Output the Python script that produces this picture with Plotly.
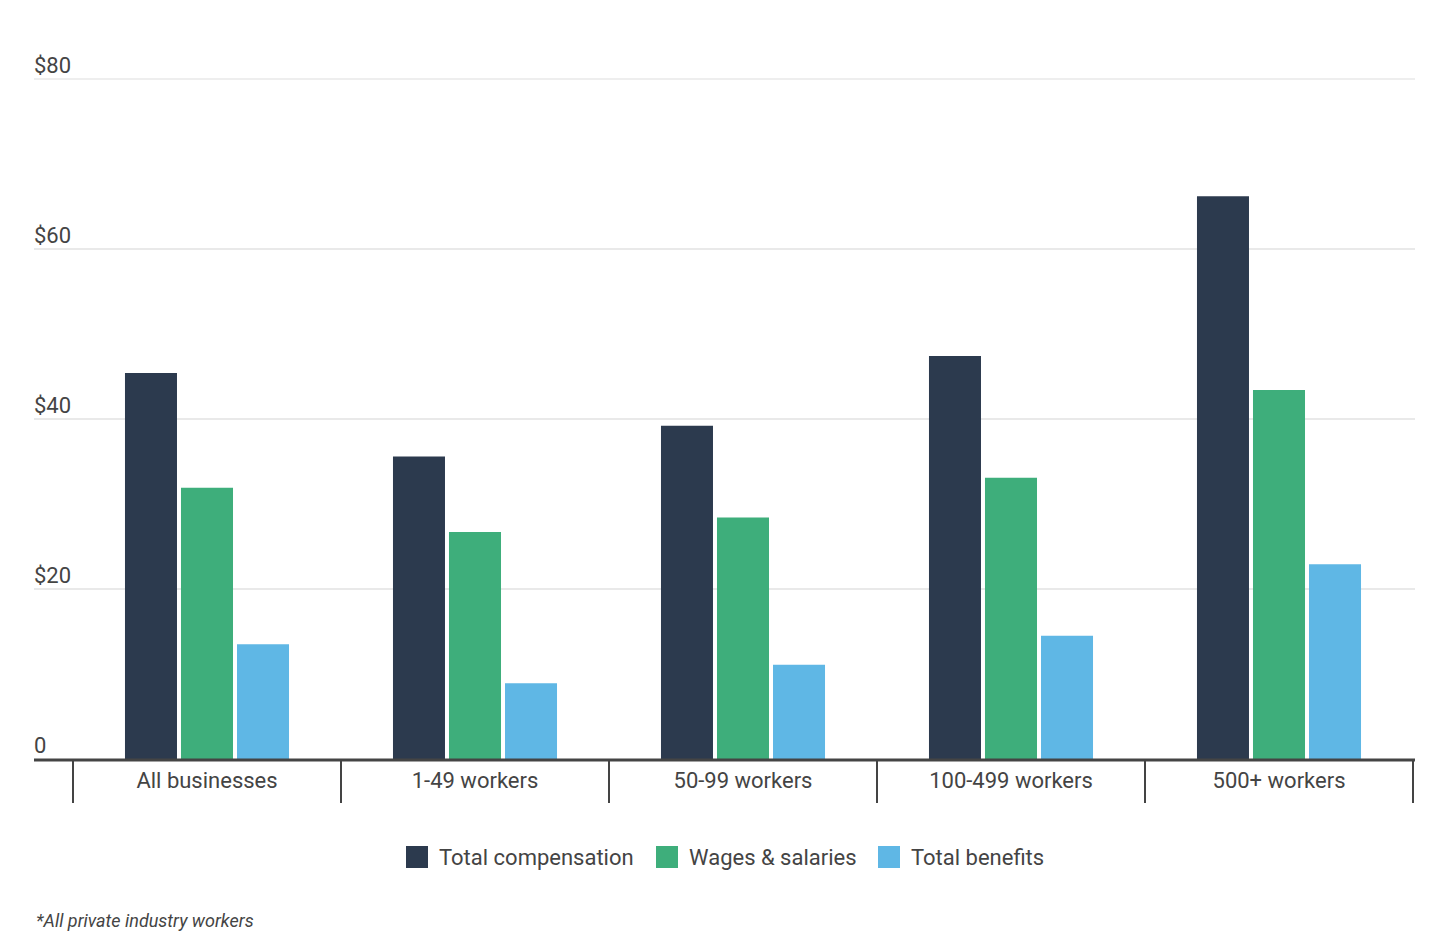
import plotly.graph_objects as go

categories = ["All businesses", "1-49 workers", "50-99 workers", "100-499 workers", "500+ workers"]
series_names = ["Total compensation", "Wages & salaries", "Total benefits"]
total_compensation = [45.4, 35.6, 39.2, 47.4, 66.2]
wages_salaries = [31.9, 26.7, 28.4, 33.1, 43.4]
total_benefits = [13.5, 8.9, 11.1, 14.5, 22.9]
y_ticks = [0, 20, 40, 60, 80]
y_tick_labels = ["0", "$20", "$40", "$60", "$80"]
footnote = "*All private industry workers"

colors = ["#2c3a4e", "#3eae7b", "#5fb7e5"]
series_values = [total_compensation, wages_salaries, total_benefits]
FONT = "Roboto, Arial, sans-serif"
TXT = "#444444"
GRID = "#e9e9e9"

W, H = 1450, 950
L, R, T, B = 34, 35, 79, 191
pw, ph = W - L - R, H - T - B


def px_x(px):
    return (px - L) / pw


def px_y(py):
    return (H - B - py) / ph


x_pos = list(range(len(categories)))
fig = go.Figure()
for name, vals, col in zip(series_names, series_values, colors):
    fig.add_trace(go.Bar(x=x_pos, y=vals, name=name, marker=dict(color=col, line=dict(width=0)),
                         showlegend=False, hoverinfo="y+name"))

cat_px = 268.0
left_extra = 39 / cat_px
right_extra = 2 / cat_px

shapes = []
# top gridline (at the range edge, drawn explicitly so it is not clipped)
shapes.append(dict(type="line", xref="paper", yref="paper", x0=0, x1=1, y0=1, y1=1,
                   line=dict(color=GRID, width=1.5), layer="below"))
# baseline
shapes.append(dict(type="line", xref="paper", yref="paper", x0=0, x1=1,
                   y0=px_y(760), y1=px_y(760),
                   line=dict(color=TXT, width=3), layer="above"))
# category dividers
for i in range(len(categories) + 1):
    xv = i - 0.5
    shapes.append(dict(type="line", xref="x", yref="paper", x0=xv, x1=xv,
                       y0=px_y(761), y1=px_y(803), line=dict(color=TXT, width=2)))

annotations = []
for v, lab in zip(y_ticks, y_tick_labels):
    annotations.append(dict(x=0, xref="paper", y=v, yref="y", text=lab, showarrow=False,
                            xanchor="left", yanchor="bottom", yshift=-1, xshift=-2,
                            font=dict(family=FONT, size=22, color=TXT)))

# custom legend
legend_x = [406, 656, 878]
for name, col, lx in zip(series_names, colors, legend_x):
    shapes.append(dict(type="rect", xref="paper", yref="paper",
                       x0=px_x(lx), x1=px_x(lx + 22), y0=px_y(846), y1=px_y(868),
                       fillcolor=col, line=dict(width=0)))
    annotations.append(dict(x=px_x(lx + 31), xref="paper", y=px_y(857), yref="paper",
                            text=name, showarrow=False, xanchor="left", yanchor="middle",
                            font=dict(family=FONT, size=22, color=TXT)))

annotations.append(dict(x=px_x(34), xref="paper", y=px_y(920), yref="paper",
                        text="<i>" + footnote + "</i>", showarrow=False,
                        xanchor="left", yanchor="middle",
                        font=dict(family=FONT, size=18, color=TXT)))

fig.update_layout(
    width=W, height=H,
    margin=dict(l=L, r=R, t=T, b=B, pad=0),
    paper_bgcolor="white", plot_bgcolor="white",
    barmode="group", bargap=0.373, bargroupgap=0.0714,
    font=dict(family=FONT, size=22, color=TXT),
    xaxis=dict(range=[-0.5 - left_extra, len(categories) - 0.5 + right_extra],
               tickmode="array", tickvals=x_pos, ticktext=categories,
               showgrid=False, zeroline=False, showline=False, ticks="",
               ticklabelstandoff=6,
               tickfont=dict(family=FONT, size=22, color=TXT), fixedrange=True),
    yaxis=dict(range=[0, 80], tickmode="array", tickvals=y_ticks, showticklabels=False,
               showgrid=True, gridcolor=GRID, gridwidth=1.5, zeroline=False,
               showline=False, ticks="", fixedrange=True),
    shapes=shapes, annotations=annotations,
    showlegend=False,
)

fig.write_html("out.html")
